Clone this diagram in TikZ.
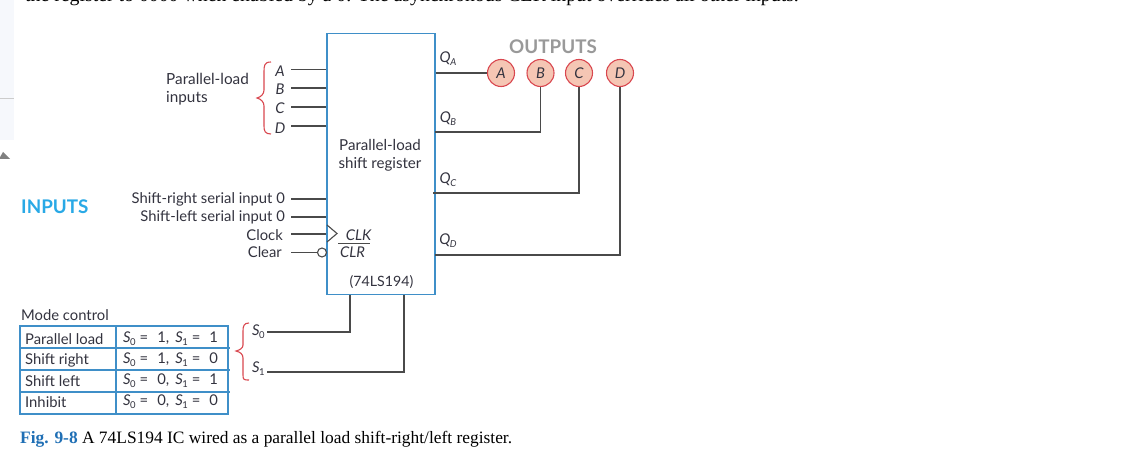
\documentclass[tikz,border=0pt]{standalone}
\usepackage{fontspec}
\setmainfont{Liberation Serif}
\newfontfamily\labelfont{Lato}
\usetikzlibrary{positioning}
\definecolor{wirecol}{HTML}{4A4A4A}
\definecolor{boxcol}{HTML}{3F8FC8}
\definecolor{bracecol}{HTML}{D9474F}
\definecolor{ledfill}{HTML}{F5C6B4}
\definecolor{textcol}{HTML}{33333F}
\definecolor{stripcol}{HTML}{F6F8FC}
\definecolor{inputcol}{HTML}{29A9E6}
\definecolor{figcol}{HTML}{1F6FB5}
\newcommand{\subpin}[2]{\textit{#1}\kern-0.5pt\raisebox{-3pt}{\fontsize{9.5}{10}\selectfont #2}}
\newcommand{\modeval}[2]{\subpin{S}{0}\kern4pt=\kern9pt#1,\kern6pt\subpin{S}{1}\kern4pt=\kern9pt#2}
\tikzset{
  wire/.style={draw=wirecol, line width=1.1pt},
  blueline/.style={draw=boxcol, line width=1.1pt},
  redline/.style={draw=bracecol, line width=1.1pt},
  lbl/.style={inner sep=0pt, text=textcol, font=\labelfont\fontsize{14.8}{18}\selectfont},
  pinlbl/.style={lbl, font=\labelfont\itshape\fontsize{14.8}{18}\selectfont},
  led/.style={draw=bracecol, fill=ledfill, circle, line width=1.1pt, minimum size=27pt, inner sep=0pt, text=textcol, font=\labelfont\itshape\fontsize{14.8}{18}\selectfont},
  modecell/.style={lbl, anchor=west}
}
\begin{document}
\begin{tikzpicture}[x=1pt,y=-1pt]
  \useasboundingbox (0,0) rectangle (1137,465);
  \fill[white] (0,0) rectangle (1137,465);
  % page behind the figure
  \fill[stripcol] (0,0) rectangle (14,140);
  \draw[black!20] (0,98) -- (14,98);
  \fill[black!50] (-1,159) -- (3,152) -- (10,159) -- cycle;
  \node[anchor=base west, inner sep=0pt, font=\fontsize{19.8}{22}\selectfont] (TOPLINE) at (25,2) {the register to 0000 when enabled by a 0. The asynchronous CLR input overrides all other inputs.};
  % register
  \node[draw=boxcol, line width=1.1pt, minimum width=108pt, minimum height=261pt, inner sep=0pt] (REG) at (381,164) {};
  \node[lbl, align=center, font=\labelfont\fontsize{15.1}{18}\selectfont] (TITLE) at (380,155) {Parallel-load\\shift register};
  \node[lbl, font=\labelfont\fontsize{14.2}{18}\selectfont] (PART) at (381.5,282) {(74LS194)};
  % parallel inputs
  \node[lbl, align=left, anchor=west, font=\labelfont\fontsize{15.3}{18}\selectfont] (PLOAD) at (166,89) {Parallel-load\\inputs};
  \node[pinlbl] (A) at (280,71) {A};
  \node[pinlbl] (B) at (280,89.5) {B};
  \node[pinlbl] (C) at (280,108.5) {C};
  \node[pinlbl] (D) at (280,128) {D};
  \coordinate (RA) at (291,69.5);
  \coordinate (RB) at (291,88);
  \coordinate (RC) at (291,107);
  \coordinate (RD) at (291,126);
  \draw[wire] (RA) -- (RA -| REG.west);
  \draw[wire] (RB) -- (RB -| REG.west);
  \draw[wire] (RC) -- (RC -| REG.west);
  \draw[wire] (RD) -- (RD -| REG.west);
  \draw[redline] (271,62) .. controls (264,62) and (264,66) .. (264,72) -- (264,90) .. controls (264,94) and (261,97) .. (257,98) .. controls (261,99) and (264,102) .. (264,106) -- (264,126) .. controls (264,131) and (265,134) .. (271,134);
  % outputs
  \node[led] (LA) at (501,73) {A};
  \node[led] (LB) at (540.5,73) {B};
  \node[led] (LC) at (579,73) {C};
  \node[led] (LD) at (620,73) {D};
  \node[lbl, text=black!40, font=\labelfont\bfseries\fontsize{18.8}{20}\selectfont] (OUT) at (553,47) {OUTPUTS};
  \node[lbl] (QA) at (448,59) {\subpin{Q}{\textit{A}}};
  \node[lbl] (QB) at (448,119) {\subpin{Q}{\textit{B}}};
  \node[lbl] (QC) at (448,180) {\subpin{Q}{\textit{C}}};
  \node[lbl] (QD) at (448,241) {\subpin{Q}{\textit{D}}};
  \coordinate (OB) at (435,132);
  \coordinate (OC) at (433,193);
  \coordinate (OD) at (435,255);
  \draw[wire] (LA -| REG.east) -- (LA);
  \draw[wire] (OB) -| (LB);
  \draw[wire] (OC) -| (LC);
  \draw[wire] (OD) -| (LD);
  % serial inputs
  \node[lbl, anchor=east] (SR) at (285,199) {Shift-right serial input 0};
  \node[lbl, anchor=east] (SL) at (285,217) {Shift-left serial input 0};
  \node[lbl, anchor=east] (CK) at (283,235) {Clock};
  \node[lbl, anchor=east] (CL) at (282,252) {Clear};
  \node[anchor=west, inner sep=0pt, text=inputcol, font=\labelfont\bfseries\fontsize{18.8}{20}\selectfont] (INP) at (21,207) {INPUTS};
  \coordinate (ISR) at (291,199);
  \coordinate (ISL) at (291,217);
  \coordinate (ICK) at (291,234);
  \coordinate (ICL) at (291,252.5);
  \draw[wire] (ISR) -- (ISR -| REG.west);
  \draw[wire] (ISL) -- (ISL -| REG.west);
  \draw[wire] (ICK) -- (ICK -| REG.west);
  \node[draw=wirecol, circle, line width=1.1pt, minimum size=9pt, inner sep=0pt] (BUB) at (322,252.5) {};
  \draw[wire] (ICL) -- (BUB);
  \draw[wire] (327,225) -- (337,233.5) -- (327,242);
  \node[pinlbl] (CLKL) at (358.5,235.5) {CLK};
  \node[pinlbl] (CLRL) at (352.5,252) {CLR};
  \draw[wire, line width=0.9pt] (338,243) -- (370,243);
  % mode control
  \node[lbl, anchor=west] (MODE) at (21,315) {Mode control};
  \draw[blueline] (20,326) rectangle (228,414);
  \draw[blueline] (20,348) -- (229.5,348);
  \draw[blueline] (20,370) -- (229.5,370);
  \draw[blueline] (20,392) -- (229.5,392);
  \draw[blueline] (116,326) -- (116,414);
  \node[modecell] (M1) at (25,339) {Parallel load};
  \node[modecell] (M2) at (25,360) {Shift right};
  \node[modecell] (M3) at (25,381) {Shift left};
  \node[modecell] (M4) at (25,402) {Inhibit};
  \node[modecell] (V1) at (123,339) {\modeval{1}{1}};
  \node[modecell] (V2) at (123,360) {\modeval{1}{0}};
  \node[modecell] (V3) at (123,381) {\modeval{0}{1}};
  \node[modecell] (V4) at (123,402) {\modeval{0}{0}};
  \draw[redline] (249,323) .. controls (244,323) and (243,326) .. (243,331) -- (243,345) .. controls (243,348) and (240,350) .. (236,351) .. controls (240,352) and (243,354) .. (243,358) -- (243,375) .. controls (243,380) and (244,380) .. (249,380);
  \node[lbl, anchor=west] (S0) at (252,332) {\subpin{S}{0}};
  \node[lbl, anchor=west] (S1) at (252,369) {\subpin{S}{1}};
  \coordinate (RS0) at (350,295);
  \coordinate (RS1) at (404,295);
  \draw[wire] (267,332) -| (RS0);
  \draw[wire] (267,372) -| (RS1);
  % caption
  \node[anchor=west, inner sep=0pt, font=\fontsize{17.4}{20}\selectfont] (CAP) at (20,439) {\textcolor{figcol}{\textbf{Fig. 9-8}} A 74LS194 IC wired as a parallel load shift-right/left register.};
\end{tikzpicture}
\end{document}
